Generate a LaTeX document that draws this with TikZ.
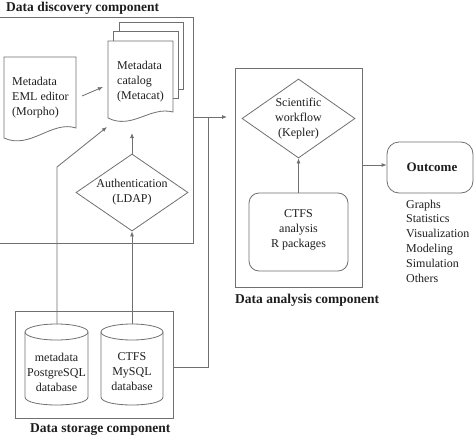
\documentclass[tikz,border=0pt]{standalone}
\usepackage{fontspec}
\setmainfont{Liberation Serif}
\usetikzlibrary{arrows.meta,shapes.geometric}
\definecolor{ln}{HTML}{707070}
\definecolor{tx}{HTML}{1E1E1E}
\begin{document}
\begin{tikzpicture}[x=1pt,y=-1pt,
  line/.style={draw=ln, line width=0.8pt},
  arr/.style={line, -{Latex[length=5pt,width=4pt]}},
  lbl/.style={text=tx, font=\fontsize{12}{15}\selectfont, align=center, inner sep=0pt},
  ttl/.style={text=tx, font=\fontsize{13.5}{16}\selectfont\bfseries, inner sep=0pt},
  grp/.style={draw=ln, line width=0.8pt, inner sep=0pt, anchor=north west},
  diam/.style={diamond, draw=ln, line width=0.8pt, inner sep=0pt, fill=white},
  rbox/.style={draw=ln, line width=0.8pt, inner sep=0pt, fill=white}]
\useasboundingbox (0,0) rectangle (474,439);
\clip (0,0) rectangle (474,439);
\fill[white] (0,0) rectangle (474,439);

% group boxes
\node[grp, minimum width=196pt, minimum height=226pt] (disc) at (-3,17) {};
\node[grp, minimum width=127pt, minimum height=219pt] (ana) at (235,68) {};
\node[grp, minimum width=158pt, minimum height=107pt] (sto) at (15,311) {};

% titles
\node[ttl, anchor=west] (discT) at (6,8) {Data discovery component};
\node[ttl, anchor=west] (anaT) at (235,300) {Data analysis component};
\node[ttl, anchor=west] (stoT) at (30,430) {Data storage component};

% Morpho document
\draw[line, fill=white] (4,57) -- (76,57) -- (76,128) .. controls (52,120) and (30,150) .. (4,138) -- cycle;
\node[lbl, align=left, anchor=west] (morpho) at (12,98) {Metadata\\EML editor\\(Morpho)};

% Metacat stacked documents
\draw[line, fill=white] (119,22) rectangle (183,89);
\draw[line, fill=white] (113,31) rectangle (178,98);
\draw[line, fill=white] (108,41) -- (173,41) -- (173,112) .. controls (150,106) and (132,130) .. (108,118) -- cycle;
\node[lbl, align=left, anchor=west] (metacat) at (117,82) {Metadata\\catalog\\(Metacat)};

% Authentication
\node[diam, minimum width=112pt, minimum height=77pt] (auth) at (132,192.5) {};
\node[lbl] (authT) at (auth.center) {Authentication\\(LDAP)};

% Scientific workflow
\node[diam, minimum width=113pt, minimum height=79pt] (wf) at (298.5,118.5) {};
\node[lbl] (wfT) at (wf.center) {Scientific\\workflow\\(Kepler)};

% CTFS analysis
\node[rbox, rounded corners=10pt, minimum width=99pt, minimum height=78pt] (ctfs) at (298.5,232) {};
\node[lbl] (ctfsT) at (298.5,230) {CTFS\\analysis\\R packages};

% Outcome
\node[rbox, rounded corners=12pt, minimum width=86pt, minimum height=51pt] (out) at (430,167.5) {};
\node[ttl, font=\fontsize{13}{16}\selectfont\bfseries] (outT) at (432,167) {Outcome};
\node[lbl, align=left, anchor=west, font=\fontsize{12}{14.8}\selectfont] (list) at (406,241)
  {Graphs\\Statistics\\Visualization\\Modeling\\Simulation\\Others};

% Cylinders
\draw[line, fill=white] (25,332) -- (25,397) .. controls (25,407.67) and (88,407.67) .. (88,397) -- (88,332);
\draw[line] (56.5,332) ellipse [x radius=31.5, y radius=8];
\node[lbl] (pg) at (56.5,372) {metadata\\PostgreSQL\\database};
\draw[line, fill=white] (101,332) -- (101,397) .. controls (101,407.67) and (163,407.67) .. (163,397) -- (163,332);
\draw[line] (132,332) ellipse [x radius=31, y radius=8];
\node[lbl] (my) at (132,372) {CTFS\\MySQL\\database};

% named coordinates
\coordinate (pgtop) at (57,324);
\coordinate (mytop) at (132,324);
\coordinate (bend) at (57,167);
\coordinate (mcin) at (107,127);
\coordinate (mcbot) at (132,133);
\coordinate (mo) at (82,96);
\coordinate (mi) at (103,87);
\coordinate (j) at (208,117);
\coordinate (stoout) at (173,367);

% connectors
\draw[arr] (mo) -- (mi);
\draw[arr] (pgtop) -- (bend) -- (mcin);
\draw[arr] (mytop) -- (auth.south);
\draw[arr] (auth.north) -- (mcbot);
\draw[line] (stoout) -| (j);
\draw[line] (disc.east |- j) -- (j);
\draw[arr, shorten >=8pt] (j) -- (ana.west |- j);
\draw[arr] (ctfs.north) -- (wf.south);
\draw[arr] (ana.east |- 0,165) -- (out.west |- 0,165);
\end{tikzpicture}
\end{document}
